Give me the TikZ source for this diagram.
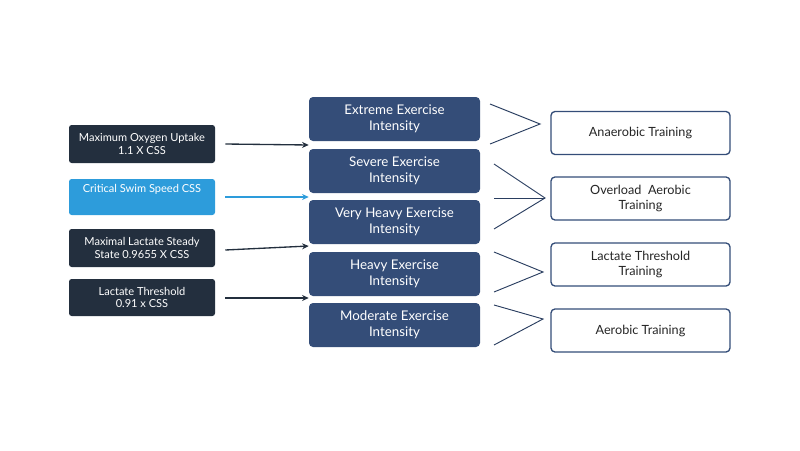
\documentclass[tikz,border=0pt]{standalone}
\usepackage{fontspec}
\setmainfont{Lato}
\usetikzlibrary{arrows.meta}
\definecolor{dk}{HTML}{232F3E}
\definecolor{bl}{HTML}{2D9CDB}
\definecolor{nv}{HTML}{344D78}
\begin{document}
\begin{tikzpicture}[x=0.75pt,y=-0.75pt,
 lb/.style={draw=none,fill=dk,rounded corners=2pt,text=white,font=\fontsize{8.3}{9.5}\selectfont,align=center,minimum width=146*0.75pt,inner sep=0pt},
 mb/.style={fill=nv,rounded corners=3pt,text=white,font=\fontsize{10}{12}\selectfont,align=center,minimum width=171*0.75pt,minimum height=44*0.75pt,inner sep=0pt},
 rb/.style={draw=nv,line width=1pt,fill=white,rounded corners=3pt,text=black!85,font=\fontsize{9.5}{11.5}\selectfont,align=center,minimum width=179*0.75pt,minimum height=43*0.75pt,inner sep=0pt},
 ar/.style={-{Stealth[length=5pt,width=4.5pt]},line width=1pt},
 cv/.style={draw=nv!80!black,line width=0.7pt}]
\useasboundingbox (0,0) rectangle (800,450);
\node[lb,minimum height=38*0.75pt] (l1) at (142,144) {Maximum Oxygen Uptake\\1.1 X CSS};
\node[lb,fill=bl,minimum height=36*0.75pt] (l2) at (142,197) {Critical Swim Speed CSS\\[4pt]};
\node[lb,minimum height=38*0.75pt] (l3) at (142,248) {Maximal Lactate Steady\\State 0.9655 X CSS};
\node[lb,minimum height=37*0.75pt] (l4) at (142,297.5) {Lactate Threshold\\0.91 x CSS};
\node[mb] (m1) at (394.5,119) {Extreme Exercise\\Intensity};
\node[mb] (m2) at (394.5,171) {Severe Exercise\\Intensity};
\node[mb] (m3) at (394.5,222) {Very Heavy Exercise\\Intensity};
\node[mb] (m4) at (394.5,274) {Heavy Exercise\\Intensity};
\node[mb] (m5) at (394.5,325) {Moderate Exercise\\Intensity};
\node[rb] (r1) at (640.5,133) {Anaerobic Training};
\node[rb] (r2) at (640.5,198.5) {Overload\ \ Aerobic\\Training};
\node[rb] (r3) at (640.5,264.5) {Lactate Threshold\\Training};
\node[rb] (r4) at (640.5,330.5) {Aerobic Training};
\draw[ar,dk] ([xshift=10*0.75pt]l1.east) -- (m1.west |- 0,145);
\draw[ar,bl] ([xshift=10*0.75pt]l2.east) -- (m1.west |- 0,197);
\draw[ar,dk] ([xshift=10*0.75pt,yshift=-2*0.75pt]l3.east) -- (m1.west |- 0,246);
\draw[ar,dk] ([xshift=10*0.75pt,yshift=-0.5*0.75pt]l4.east) -- (m1.west |- 0,298);
\coordinate (t1) at (540,124); \coordinate (t2) at (545,198);
\coordinate (t3) at (543,272); \coordinate (t4) at (543,319);
\draw[cv] (490,104) -- (t1) -- (490,144);
\draw[cv] (494,164) -- (t2) -- (494,229);
\draw[cv] (494,198) -- (t2);
\draw[cv] (494,252) -- (t3) -- (494,292);
\draw[cv] (494,305) -- (t4) -- (494,345);
\end{tikzpicture}
\end{document}
